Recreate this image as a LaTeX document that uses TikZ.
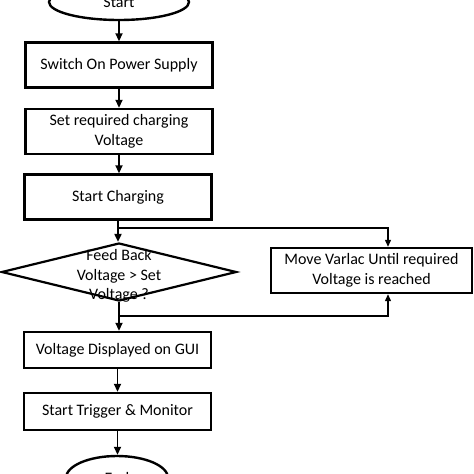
\documentclass[tikz,border=0pt]{standalone}
\usepackage{fontspec}
\setmainfont{Carlito}
\usetikzlibrary{shapes.geometric,arrows.meta}

\tikzset{
  stepbox/.style={draw,line width=2.4pt,minimum width=187pt,minimum height=45pt,
    inner sep=2pt,align=center,font=\fontsize{16}{19.5}\selectfont},
  terminal/.style={draw,ellipse,line width=2.4pt,inner sep=0pt,
    font=\fontsize{16}{19.5}\selectfont},
  decision/.style={draw,diamond,line width=2.2pt,inner sep=0pt,
    minimum width=235pt,minimum height=58pt},
  flow/.style={line width=1.8pt,-{Triangle[width=7pt,length=8pt]}},
  feed/.style={line width=1.2pt,-{Triangle[width=6pt,length=7pt]}}
}

\begin{document}
\begin{tikzpicture}[x=1pt,y=-1pt]

\useasboundingbox (0,0) rectangle (474,474);
\clip (0,0) rectangle (474,474);

\node[terminal,minimum width=140pt,minimum height=36pt] (start) at (119,2) {Start};

\node[stepbox] (power) at (119,65) {Switch On Power Supply};

\node[stepbox] (setv) at (119,131.5) {Set required charging\\Voltage};

\node[stepbox] (charge) at (118,197) {Start Charging};

\node[decision] (check) at (119,272) {};
\node[align=center,font=\fontsize{16}{19.5}\selectfont] (checktext) at (119,276) {Feed Back\\Voltage > Set\\Voltage ?};

\node[stepbox,minimum width=201pt] (varlac) at (371.5,270.5) {Move Varlac Until required\\Voltage is reached};

\node[stepbox,minimum height=36pt] (display) at (117.5,350) {Voltage Displayed on GUI};

\node[stepbox,minimum height=37pt] (trigger) at (117.5,411.5) {Start Trigger \& Monitor};

\node[terminal,minimum width=102pt,minimum height=44pt] (stop) at (117,478) {End};

\coordinate (split) at (118,228);
\coordinate (join) at (118,316);

\draw[flow] (start) -- (power);
\draw[flow] (power) -- (setv);
\draw[flow] (setv.south) -- (setv.south |- charge.north);
\draw[flow] (charge.south) -- (charge.south |- check.north);
\draw[flow] (check.south) -- (check.south |- display.north);
\draw[flow] (display) -- (trigger);
\draw[flow] (trigger.south) -- (trigger.south |- stop.north);

\draw[feed] (split) -| ([xshift=16.5pt]varlac.north);
\draw[feed] (join) -| ([xshift=16.5pt]varlac.south);

\end{tikzpicture}
\end{document}
